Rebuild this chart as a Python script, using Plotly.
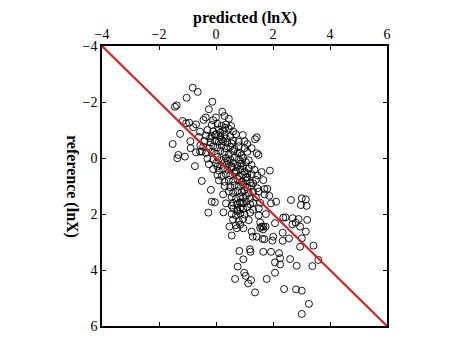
import plotly.graph_objects as go

# predicted (lnX) and reference (lnX) values
predicted = [
    -0.82, -0.64, -1.03, -1.38, -1.44, -0.13, -0.25, 0.22, -0.36, -0.44,
    -1.17, -0.94, -1.05, -0.70, -1.26, -0.56, -1.52, -0.89, -1.32, -1.36,
    -1.09, -0.74, -0.50, -0.21, -0.04, 0.32, 0.53, 0.94, 1.37, 1.43,
    0.55, 1.43, 1.49, 1.89, -0.50, -0.18, -0.27, -0.04, -0.15, 0.26,
    0.35, 0.47, 0.73, 0.55, 0.82, 1.19, 1.21, 0.96, 0.76, 0.99,
    0.67, 1.04, 1.23, 1.13, 1.37, 1.66, 1.93, 1.78, 2.07, 2.21,
    2.25, 2.25, 2.07, 2.39, 2.60, 2.81, 3.01, 2.83, 3.26, 3.01,
    3.42, 3.38, 3.59, 2.95, 3.01, 3.15, 2.95, 3.20, 3.18, 2.98,
    3.15, 3.01, 2.63, 2.44, 2.36, 2.69, 2.80, 2.68, 2.90, 2.34,
    2.56, 2.34, 2.01, 1.98, 1.74, 1.66, 1.70, 1.63, 1.43, 1.29,
    1.25, 0.96, 2.07, 2.11, 1.87, 1.93, 1.70, 1.66, 0.84, -0.56,
    -0.15, 0.05, 0.20, 0.35, -0.30, -0.10, 0.10, 0.25, 0.45, 0.60,
    -0.35, -0.15, 0.00, 0.15, 0.30, 0.50, 0.70, 0.20, -0.40, -0.20,
    -0.05, 0.10, 0.25, 0.40, 0.60, 0.80, 1.00, -0.45, -0.25, -0.10,
    0.05, 0.20, 0.35, 0.50, 0.65, 0.80, 1.00, -0.35, -0.15, 0.00,
    0.15, 0.30, 0.45, 0.60, 0.75, 0.90, 1.10, -0.30, -0.10, 0.05,
    0.20, 0.35, 0.50, 0.65, 0.80, 0.95, 1.15, -0.25, 0.00, 0.15,
    0.30, 0.45, 0.60, 0.75, 0.90, 1.05, 1.25, -0.10, 0.10, 0.25,
    0.40, 0.55, 0.70, 0.85, 1.00, 1.15, 1.35, 0.05, 0.20, 0.35,
    0.50, 0.65, 0.80, 0.95, 1.10, 1.25, 1.45, 0.10, 0.30, 0.45,
    0.60, 0.75, 0.90, 1.05, 1.20, 1.40, 0.30, 0.50, 0.65, 0.80,
    0.95, 1.10, 1.25, 1.45, 0.45, 0.60, 0.75, 0.90, 1.00, 1.15,
    1.30, 0.55, 0.70, 0.85, 0.95, 1.05, 1.20, 1.40, 0.60, 0.75,
    0.85, 0.95, 1.05, 1.20, 0.60, 0.75, 0.85, 0.95, 1.10, 1.30,
    1.50, 0.55, 0.70, 0.85, 1.00, 1.20, 1.50, 1.75, 0.60, 0.80,
    0.95, 1.15, 1.55, 0.70, 0.85, 1.55, 1.60, 1.65, 0.00, 0.30,
    0.45, -0.10, -0.80, -0.60, -0.90, -0.55, -0.70, 1.30, 1.50, 1.60,
    1.70, 1.30, 1.55, 1.80, 1.25, 1.10, 0.40, 0.55, 0.70, 0.85,
    0.15, 0.35, 0.95, 1.10, 0.25, 0.05, 0.55, 0.75, 0.90, 1.05,
]
reference = [
    -2.51, -2.36, -2.15, -1.88, -1.83, -2.01, -1.74, -1.65, -1.45, -1.36,
    -1.32, -1.26, -1.24, -1.20, -0.86, -0.94, -0.50, -0.35, -0.11, 0.01,
    -0.05, 0.29, -0.23, -0.70, -0.82, -1.08, -1.14, -0.82, -0.67, -0.74,
    -0.52, -0.17, -0.11, 0.45, 0.82, 1.14, 1.95, 1.58, 1.56, 1.94,
    1.62, 2.45, 2.51, 2.77, 3.32, 3.26, 3.35, 3.62, 3.88, 4.10,
    4.32, 4.21, 4.36, 4.48, 4.80, 3.35, 3.35, 4.32, 4.10, 3.40,
    3.58, 3.80, 3.73, 4.68, 3.61, 4.69, 4.74, 3.85, 5.21, 5.57,
    3.13, 3.86, 3.64, 3.17, 2.87, 2.63, 2.45, 2.21, 1.71, 1.68,
    1.48, 1.44, 1.50, 2.12, 2.13, 2.15, 2.31, 2.37, 2.18, 2.67,
    2.87, 2.96, 2.81, 2.95, 2.45, 2.45, 2.90, 2.89, 2.81, 2.81,
    2.63, 2.51, 2.33, 1.56, 1.35, 1.62, 1.11, 0.79, -0.17, -0.23,
    -1.18, -1.22, -1.15, -1.20, -1.00, -0.95, -1.02, -0.98, -1.05, -0.95,
    -0.80, -0.78, -0.85, -0.75, -0.82, -0.78, -0.85, -0.65, -0.60, -0.55,
    -0.62, -0.58, -0.60, -0.55, -0.62, -0.58, -0.60, -0.40, -0.35, -0.42,
    -0.38, -0.45, -0.35, -0.40, -0.32, -0.42, -0.35, -0.18, -0.22, -0.15,
    -0.25, -0.20, -0.12, -0.25, -0.18, -0.10, -0.22, 0.02, 0.05, -0.03,
    0.08, 0.00, 0.05, -0.02, 0.06, 0.00, 0.08, 0.22, 0.18, 0.25,
    0.15, 0.22, 0.18, 0.28, 0.20, 0.15, 0.25, 0.40, 0.45, 0.38,
    0.42, 0.35, 0.45, 0.40, 0.48, 0.38, 0.42, 0.60, 0.65, 0.58,
    0.62, 0.55, 0.65, 0.60, 0.68, 0.58, 0.62, 0.80, 0.85, 0.78,
    0.82, 0.75, 0.85, 0.80, 0.88, 0.78, 1.00, 1.05, 0.98, 1.02,
    0.95, 1.05, 1.00, 1.08, 1.20, 1.25, 1.18, 1.22, 1.15, 1.25,
    1.20, 1.40, 1.45, 1.38, 1.42, 1.35, 1.45, 1.40, 1.60, 1.65,
    1.58, 1.62, 1.55, 1.65, 1.80, 1.85, 1.78, 1.82, 1.75, 1.85,
    1.80, 2.00, 2.05, 1.98, 2.02, 1.95, 2.05, 2.00, 2.20, 2.25,
    2.18, 2.22, 2.30, 2.40, 2.38, 2.50, 2.45, 2.55, -1.45, -1.50,
    -1.40, -1.35, -1.10, -0.75, -0.60, -0.45, -0.20, 0.90, 1.20, 0.50,
    1.30, 1.60, 1.60, 1.10, -0.35, -0.50, 0.10, 0.30, 0.50, 0.20,
    -0.90, -0.70, 0.30, 0.55, 1.30, 0.30, 1.70, 1.90, 1.60, 0.70,
]

axis_ticks = [-4, -2, 0, 2, 4, 6]
line_ends = [-4, 6]

fig = go.Figure()
fig.add_trace(go.Scatter(
    x=predicted, y=reference, mode="markers",
    marker=dict(symbol="circle-open", size=7, color="black",
                line=dict(color="black", width=0.9)),
    showlegend=False,
))
fig.add_trace(go.Scatter(
    x=line_ends, y=line_ends, mode="lines",
    line=dict(color="#d42424", width=2.2), showlegend=False,
))

serif = "Liberation Serif, Times New Roman, serif"
axis_common = dict(
    tickvals=axis_ticks, ticks="inside", ticklen=4, tickwidth=1,
    tickcolor="black", showline=True, linecolor="black", linewidth=1.6,
    mirror="ticks", showgrid=False, zeroline=False,
    tickfont=dict(family=serif, size=14, color="black"),
)
fig.update_xaxes(range=[-4, 6], side="top", **axis_common)
fig.update_yaxes(range=[6, -4], **axis_common)

fig.update_layout(
    width=474, height=355,
    margin=dict(l=94, r=95, t=38, b=37),
    paper_bgcolor="white", plot_bgcolor="white",
    annotations=[
        dict(text="<b>predicted (lnX)</b>", xref="paper", yref="paper",
             x=0.5, y=1, yshift=28, showarrow=False,
             font=dict(family=serif, size=16, color="black"),
             xanchor="center", yanchor="middle"),
        dict(text="<b>reference (lnX)</b>", xref="paper", yref="paper",
             x=0, y=0.5, xshift=-30, showarrow=False, textangle=90,
             font=dict(family=serif, size=16, color="black"),
             xanchor="center", yanchor="middle"),
    ],
)

fig.write_html("out.html")
